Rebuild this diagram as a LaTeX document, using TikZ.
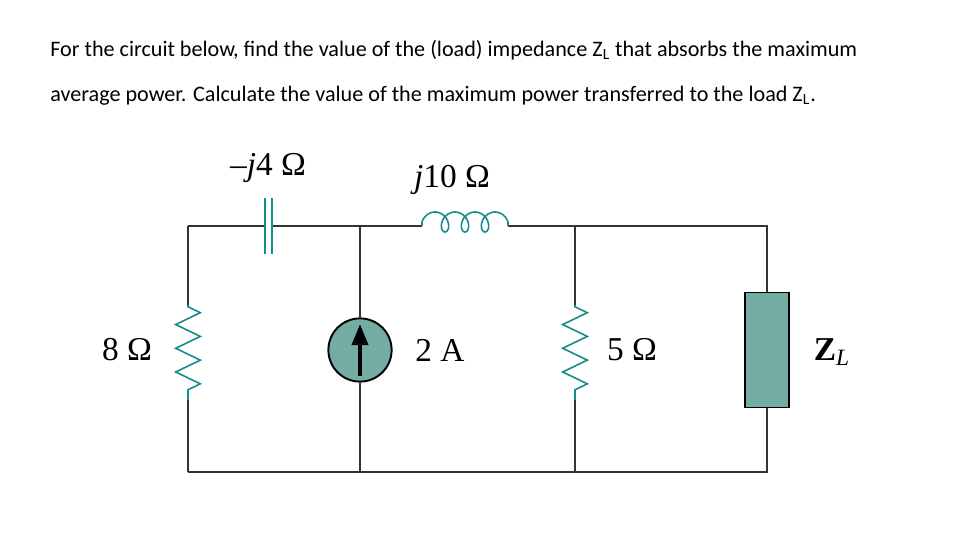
\documentclass[tikz,border=0pt]{standalone}
\usepackage{fontspec}
\setmainfont{Carlito}
\newfontfamily\ckt{Liberation Serif}
\usetikzlibrary{decorations.pathmorphing,arrows.meta}
\definecolor{tealline}{RGB}{20,140,135}
\definecolor{tealfill}{RGB}{115,172,162}
\tikzset{
  wire/.style={line width=0.9pt, black!80},
  res/.style={tealline, line width=0.9pt, decorate,
    decoration={zigzag, segment length=13.5, amplitude=7pt, pre length=1pt, post length=1pt}},
  lbl/.style={font=\ckt\fontsize{19}{22}\selectfont},
  txt/.style={font=\fontsize{12.6}{15}\selectfont, anchor=west, inner sep=0pt}
}
\begin{document}
\begin{tikzpicture}[x=0.02cm, y=-0.02cm]
\useasboundingbox (0,0) rectangle (953,547);

% question text
\node[txt] (q1) at (50,50) {For the circuit below, find the value of the (load) impedance Z\textsubscript{L} that absorbs the maximum};
\node[txt] (q2) at (50,96) {average power. Calculate the value of the maximum power transferred to the load Z\textsubscript{L}.};

% corners and junctions
\coordinate (tl) at (188,226);
\coordinate (bl) at (188,472);
\coordinate (tm) at (360,226);
\coordinate (bm) at (360,472);
\coordinate (tr) at (575,226);
\coordinate (br) at (575,472);
\coordinate (tz) at (767,226);
\coordinate (bz) at (767,472);

% capacitor
\coordinate (c1) at (265,226);
\coordinate (c2) at (272,226);
\draw[wire] (tl) -- (c1);
\draw[wire] (c2) -- (tm);
\draw[tealline, line width=1pt] (265,198) -- (265,254) (272,198) -- (272,254);

% inductor
\coordinate (l1) at (422,226);
\coordinate (l2) at (508,226);
\draw[wire] (tm) -- (l1);
\draw[wire] (l2) -- (tr);
\draw[tealline, line width=0.9pt, domain=90:1350, samples=160, smooth]
  plot ({425 + \x/18 - 8*sin(\x)}, {222 + 10*cos(\x)});
\draw[tealline, line width=0.9pt] (l1) -- (422,222) (508,222) -- (l2);

% 8 ohm resistor
\coordinate (r1a) at (188,305);
\coordinate (r1b) at (188,400);
\draw[wire] (tl) -- (r1a);
\draw[res] (r1a) -- (r1b);
\draw[wire] (r1b) -- (bl);

% current source
\node[circle, draw=black, line width=1.1pt, fill=tealfill, minimum size=36pt, inner sep=0pt] (src) at (360,350) {};
\draw[wire] (tm) -- (src.north);
\draw[wire] (src.south) -- (bm);
\draw[-{Triangle[length=12pt,width=9pt]}, line width=2.4pt] (360,376) -- (360,324);

% 5 ohm resistor
\coordinate (r2a) at (575,305);
\coordinate (r2b) at (575,400);
\draw[wire] (tr) -- (r2a);
\draw[res] (r2a) -- (r2b);
\draw[wire] (r2b) -- (br);

% load
\node[rectangle, draw=black, line width=1pt, fill=tealfill, minimum width=44*0.02cm, minimum height=115*0.02cm, inner sep=0pt] (zl) at (767,350) {};
\draw[wire] (tr) -- (tz) -- (zl.north);
\draw[wire] (zl.south) -- (bz) -- (bl);

% labels
\node[lbl] (lc) at (268,168) {–\textit{j}4 Ω};
\node[lbl] (ll) at (452,180) {\textit{j}10 Ω};
\node[lbl] (lr1) at (127,350) {8 Ω};
\node[lbl] (ls) at (440,350) {2 A};
\node[lbl] (lr2) at (632,350) {5 Ω};
\node[lbl] (lz) at (832,352) {\textbf{Z}\textsubscript{\textit{L}}};
\end{tikzpicture}
\end{document}
